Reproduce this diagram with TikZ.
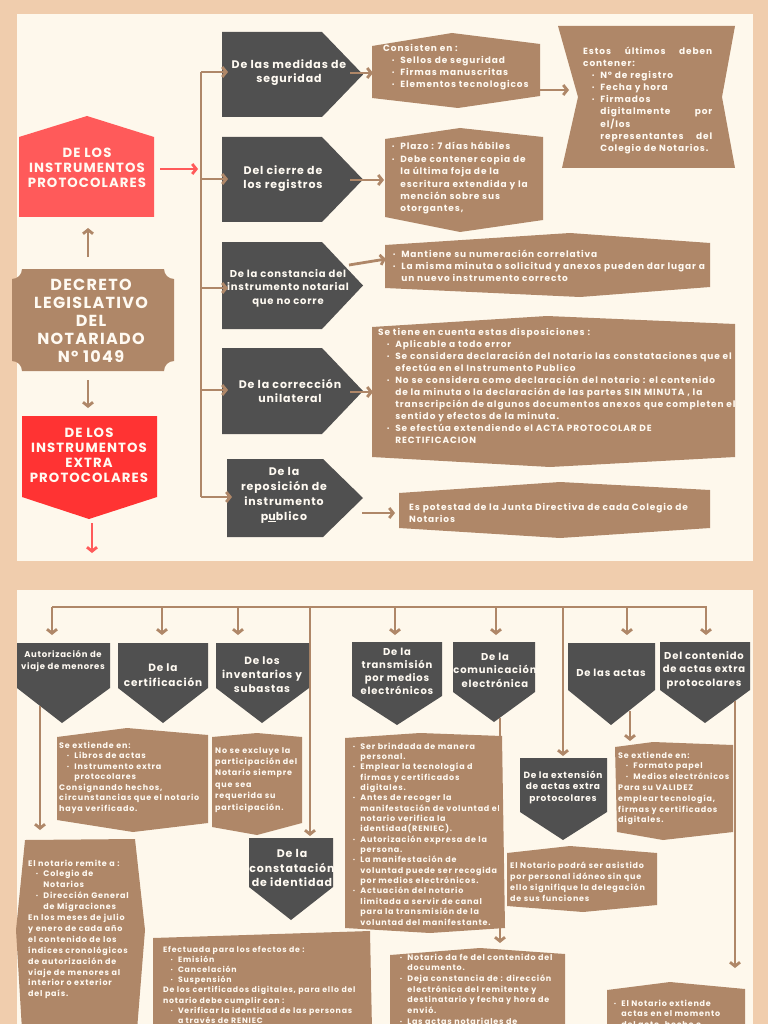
\documentclass[tikz,border=0pt]{standalone}
\usepackage{fontspec}
\setmainfont{Poppins}
\newfontfamily\wide{Poppins}[LetterSpace=8]
\newfontfamily\notefont{Poppins}[LetterSpace=10]
\usetikzlibrary{arrows.meta}
\definecolor{peach}{RGB}{240,205,173}
\definecolor{panel}{RGB}{254,248,236}
\definecolor{tan}{RGB}{175,135,104}
\definecolor{slate}{RGB}{80,80,80}
\definecolor{coral}{RGB}{255,90,90}
\definecolor{scarlet}{RGB}{255,51,51}
\definecolor{paper}{RGB}{255,250,242}
\newcommand{\bl}{\hspace*{0.95em}\makebox[0.95em][l]{·}}
\newcommand{\bc}{\hspace*{1.9em}}
\newcommand{\lines}[1]{\begin{tabular}[t]{@{}l@{}}#1\end{tabular}}
\newcommand{\rightsign}[5]{\fill[slate] (#1,#3) -- (#2,#3) -- (#5,{(#3+#4)/2}) -- (#2,#4) -- (#1,#4) -- cycle;}
\newcommand{\downsign}[6]{\fill[slate] (#1,#3) -- (#2,#3) -- (#2,#4) -- (#5,#6) -- (#1,#4) -- cycle;}

\begin{document}
\begin{tikzpicture}[x=1pt,y=-1pt,
  ln/.style={draw=tan,line width=2.8pt},
  arr/.style={ln,-{Straight Barb[length=4pt,width=10pt]}},
  redarr/.style={draw=coral,line width=2.8pt,-{Straight Barb[length=4pt,width=10pt]}},
  note/.style={inner sep=0pt,anchor=base west,text=paper,font=\notefont\fontsize{9}{12}\selectfont\bfseries},
  small/.style={note,font=\notefont\fontsize{8}{10.6}\selectfont\bfseries},
  head/.style={inner sep=0pt,align=center,text=paper,font=\wide\fontsize{11}{14}\selectfont\bfseries},
  title/.style={inner sep=0pt,align=center,text=paper,font=\wide\fontsize{13.3}{15}\selectfont\bfseries}]
\useasboundingbox (0,0) rectangle (768,1024);
\clip (0,0) rectangle (768,1024);
\fill[peach] (0,0) rectangle (768,1024);
\fill[panel] (17,14) rectangle (753,561);
\fill[panel] (17,590) rectangle (753,1030);

% ---- upper panel
\fill[coral] (19,137) -- (87,116) -- (154,137) -- (154,217) -- (19,217) -- cycle;
\node[title] (prot) at (87,168) {DE LOS\\INSTRUMENTOS\\PROTOCOLARES};

\fill[tan] (22,269) -- (164,269) arc[start angle=180,end angle=90,radius=10]
  -- (174,361) arc[start angle=270,end angle=180,radius=10]
  -- (22,371) arc[start angle=0,end angle=-90,radius=10]
  -- (12,279) arc[start angle=90,end angle=0,radius=10] -- cycle;
\node[title,font=\wide\fontsize{16}{18}\selectfont\bfseries] (decreto) at (91,321) {DECRETO\\LEGISLATIVO\\DEL\\NOTARIADO\\Nº 1049};

\fill[scarlet] (22,416) -- (157,416) -- (157,497) -- (89,519) -- (22,497) -- cycle;
\node[title] (extra) at (89,455) {DE LOS\\INSTRUMENTOS\\EXTRA\\PROTOCOLARES};

\coordinate (dec-n) at (88,257);
\coordinate (prot-s) at (88,228);
\coordinate (dec-s) at (88,380);
\coordinate (extra-n) at (88,408);
\coordinate (extra-s) at (92,523);
\coordinate (extra-out) at (92,553);
\draw[arr] (dec-n) -- (prot-s);
\draw[arr] (dec-s) -- (extra-n);
\draw[redarr] (extra-s) -- (extra-out);

\rightsign{222}{322}{32}{117}{363}
\node[head] (medidas) at (289,73) {De las medidas de\\seguridad};
\rightsign{222}{322}{137}{222}{363}
\node[head] (cierre) at (283,179) {Del cierre de\\los registros};
\rightsign{222}{322}{242}{329}{363}
\node[head,font=\wide\fontsize{10}{13.5}\selectfont\bfseries] (constancia) at (288,288) {De la constancia del\\instrumento notarial\\que no corre};
\rightsign{222}{322}{348}{434}{363}
\node[head] (correccion) at (290,391) {De la corrección\\unilateral};
\rightsign{227}{323}{459}{537}{363}
\node[head,font=\wide\fontsize{11}{15}\selectfont\bfseries] (reposicion) at (284,495) {De la\\reposición de\\instrumento\\p\underline{u}blico};

% trunk
\coordinate (jA) at (201,72);
\coordinate (jB) at (201,179);
\coordinate (jC) at (201,288);
\coordinate (jD) at (201,390);
\coordinate (jE) at (201,497);
\coordinate (prot-e) at (160,169);
\coordinate (trunk-r) at (198,169);
\draw[redarr] (prot-e) -- (trunk-r);
\draw[ln] (jA) -- (jE);
\draw[arr] (jA) -- (228,72);
\draw[arr] (jB) -- (228,179);
\draw[arr] (jC) -- (228,288);
\draw[arr] (jD) -- (228,390);
\draw[arr] (jE) -- (232,497);

% brown boxes
\fill[tan] (372,46) -- (452,33) -- (540,44) -- (540,96) -- (458,108) -- (372,98) -- cycle;
\node[note] (consisten) at (383,52) {\lines{Consisten en :\\\bl Sellos de seguridad\\\bl Firmas manuscritas\\\bl Elementos tecnologicos}};

\fill[tan] (558,26) -- (735,26) -- (722,97) -- (735,168) -- (562,168) -- (578,97) -- cycle;
\node[note] (ultimos) at (583,55) {\lines{\hbox to 129pt{Estos\hfill últimos\hfill deben}\\contener:\\\bl Nº de registro\\\bl Fecha y hora\\\bl Firmados\\\bc\hbox to 112pt{digitalmente\hfill por}\\\bc el/los\\\bc\hbox to 112pt{representantes\hfill del}\\\bc Colegio de Notarios.}};

\fill[tan] (385,139) -- (460,128) -- (543,137) -- (543,220) -- (460,232) -- (385,217) -- cycle;
\node[note,font=\notefont\fontsize{9}{12.4}\selectfont\bfseries] (plazo) at (383,150) {\lines{\bl Plazo : 7 días hábiles\\\bl Debe contener copia de\\\bc la última foja de la\\\bc escritura extendida y la\\\bc mención sobre sus\\\bc otorgantes,}};

\fill[tan] (385,245) -- (570,233) -- (710,243) -- (710,287) -- (580,297) -- (385,288) -- cycle;
\node[note,font=\notefont\fontsize{9}{11.5}\selectfont\bfseries] (mantiene) at (384,258) {\lines{\bl Mantiene su numeración correlativa\\\bl La misma minuta o solicitud y anexos pueden dar lugar a\\\bc un nuevo instrumento correcto}};

\fill[tan] (372,327) -- (547,316) -- (735,324) -- (735,457) -- (550,467) -- (372,457) -- cycle;
\node[note] (disposiciones) at (378,335) {\lines{Se tiene en cuenta estas disposiciones :\\\bl Aplicable a todo error\\\bl Se considera declaración del notario las constataciones que el\\\bc efectúa en el Instrumento Publico\\\bl No se considera como declaración del notario : el contenido\\\bc de la minuta o la declaración de las partes SIN MINUTA , la\\\bc transcripción de algunos documentos anexos que completen el\\\bc sentido y efectos de la minuta.\\\bl Se efectúa extendiendo el ACTA PROTOCOLAR DE\\\bc RECTIFICACION}};

\fill[tan] (399,493) -- (560,482) -- (710,490) -- (710,528) -- (560,538) -- (399,528) -- cycle;
\node[note] (potestad) at (409,510) {\lines{Es potestad de la Junta Directiva de cada Colegio de\\Notarios}};

\coordinate (medidas-t) at (350,73);
\coordinate (consisten-w) at (373,73);
\coordinate (consisten-e) at (540,90);
\coordinate (ultimos-w) at (569,90);
\coordinate (cierre-t) at (350,180);
\coordinate (plazo-w) at (384,180);
\coordinate (constancia-t) at (349,265);
\coordinate (mantiene-w) at (386,259);
\coordinate (correccion-t) at (350,392);
\coordinate (disposiciones-w) at (373,392);
\coordinate (reposicion-t) at (362,513);
\coordinate (potestad-w) at (395,513);
\draw[arr] (medidas-t) -- (consisten-w);
\draw[arr] (consisten-e) -- (ultimos-w);
\draw[arr] (cierre-t) -- (plazo-w);
\draw[arr] (constancia-t) -- (mantiene-w);
\draw[arr] (correccion-t) -- (disposiciones-w);
\draw[arr] (reposicion-t) -- (potestad-w);

% ---- lower panel
\coordinate (barL) at (52,607);
\coordinate (barR) at (707,607);
\draw[ln] (barL) -- (barR);
\foreach \x in {52,162,238,395,496,627,706}
  \draw[arr] (\x,607) -- (\x,635);
\draw[arr] (310,607) -- (310,836);
\draw[arr] (563,607) -- (563,756);

\downsign{17}{110}{643}{688}{62}{723}
\node[head,font=\wide\fontsize{8.5}{11.5}\selectfont\bfseries] (autor) at (63,661) {Autorización de\\viaje de menores};
\downsign{118}{208}{643}{688}{163}{723}
\node[head,font=\wide\fontsize{10.5}{14.5}\selectfont\bfseries] (certif) at (163,675) {De la\\certificación};
\downsign{216}{309}{643}{688}{262}{723}
\node[head,font=\wide\fontsize{10.5}{14}\selectfont\bfseries] (inventarios) at (262,675) {De los\\inventarios y\\subastas};
\downsign{352}{442}{642}{696}{397}{725}
\node[head,font=\wide\fontsize{10}{13}\selectfont\bfseries] (transmision) at (397,671) {De la\\transmisión\\por medios\\electrónicos};
\downsign{453}{535}{642}{692}{494}{722}
\node[head,font=\wide\fontsize{10}{13.5}\selectfont\bfseries] (comunicacion) at (495,670) {De la\\comunicación\\electrónica};
\downsign{568}{655}{643}{690}{611}{725}
\node[head,font=\wide\fontsize{10}{13}\selectfont\bfseries] (actas) at (611,673) {De las actas};
\downsign{660}{750}{642}{690}{705}{723}
\node[head,font=\wide\fontsize{10}{13.5}\selectfont\bfseries] (contenido) at (704,670) {Del contenido\\de actas extra\\protocolares};
\downsign{520}{607}{758}{812}{563}{840}
\node[head,font=\wide\fontsize{9}{11.5}\selectfont\bfseries] (extension) at (563,787) {De la extensión\\de actas extra\\protocolares};
\downsign{249}{333}{838}{887}{291}{920}
\node[head,font=\wide\fontsize{11}{14.5}\selectfont\bfseries] (constatacion) at (292,868) {De la\\constatación\\de identidad};

\fill[tan] (57,737) -- (127,728) -- (208,735) -- (208,823) -- (133,832) -- (57,820) -- cycle;
\node[small,font=\notefont\fontsize{8}{10.5}\selectfont\bfseries] (sextiende) at (59,748) {\lines{Se extiende en:\\\bl Libros de actas\\\bl Instrumento extra\\\bc protocolares\\Consignando hechos,\\circunstancias que el notario\\haya verificado.}};

\fill[tan] (212,737) -- (257,733) -- (302,737) -- (302,823) -- (257,835) -- (212,827) -- cycle;
\node[small,font=\notefont\fontsize{8}{11.4}\selectfont\bfseries] (excluye) at (215,753) {\lines{No se excluye la\\participación del\\Notario siempre\\que sea\\requerida su\\participación.}};

\fill[tan] (345,738) -- (420,733) -- (502,736) -- (505,928) -- (430,933) -- (345,928) -- cycle;
\node[small,font=\notefont\fontsize{8}{10.35}\selectfont\bfseries] (brindada) at (345,749) {\lines{\bl Ser brindada de manera\\\bc personal.\\\bl Emplear la tecnología d\\\bc firmas y certificados\\\bc digitales.\\\bl Antes de recoger la\\\bc manifestación de voluntad el\\\bc notario verifica la\\\bc identidad(RENIEC).\\\bl Autorización expresa de la\\\bc persona.\\\bl La manifestación de\\\bc voluntad puede ser recogida\\\bc por medios electrónicos.\\\bl Actuación del notario\\\bc limitada a servir de canal\\\bc para la transmisión de la\\\bc voluntad del manifestante.}};

\fill[tan] (390,955) -- (480,948) -- (565,954) -- (565,1030) -- (390,1030) -- cycle;
\node[small,font=\notefont\fontsize{8}{10.7}\selectfont\bfseries] (dafe) at (392,960) {\lines{\bl Notario da fe del contenido del\\\bc documento.\\\bl Deja constancia de : dirección\\\bc electrónica del remitente y\\\bc destinatario y fecha y hora de\\\bc envió.\\\bl Las actas notariales de}};

\fill[tan] (507,853) -- (570,846) -- (657,853) -- (657,905) -- (583,912) -- (507,906) -- cycle;
\node[small,font=\notefont\fontsize{8}{11}\selectfont\bfseries] (asistido) at (510,868) {\lines{El Notario podrá ser asistido\\por personal idóneo sin que\\ello signifique la delegación\\de sus funciones}};

\fill[tan] (615,747) -- (653,742) -- (733,745) -- (733,832) -- (663,840) -- (617,832) -- cycle;
\node[small,font=\notefont\fontsize{8}{10.8}\selectfont\bfseries] (formato) at (618,758) {\lines{Se extiende en:\\\bl Formato papel\\\bl Medios electrónicos\\Para su VALIDEZ\\emplear tecnología,\\firmas y certificados\\digitales.}};

\fill[tan] (607,990) -- (670,982) -- (745,989) -- (745,1030) -- (607,1030) -- cycle;
\node[small] (extiende) at (606,1006) {\lines{\bl El Notario extiende\\\bc actas en el momento\\\bc del acto, hecho o}};

\fill[tan] (25,840) -- (135,839) -- (145,930) -- (137,1030) -- (22,1030) -- (16,930) -- cycle;
\node[small,font=\notefont\fontsize{8}{10.9}\selectfont\bfseries] (remite) at (28,866) {\lines{El notario remite a :\\\bl Colegio de\\\bc Notarios\\\bl Dirección General\\\bc de Migraciones\\En los meses de julio\\y enero de cada año\\el contenido de los\\índices cronológicos\\de autorización de\\viaje de menores al\\interior o exterior\\del país.}};

\fill[tan] (153,938) -- (370,931) -- (372,1030) -- (153,1030) -- cycle;
\node[small,font=\notefont\fontsize{7.8}{10.2}\selectfont\bfseries] (efectuada) at (163,952) {\lines{Efectuada para los efectos de :\\\bl Emisión\\\bl Cancelación\\\bl Suspensión\\De los certificados digitales, para ello del\\notario debe cumplir con :\\\bl Verificar la identidad de las personas\\\bc a través de RENIEC}};

\coordinate (autor-s) at (40,706);
\coordinate (remite-n) at (40,830);
\coordinate (comunicacion-s) at (500,718);
\coordinate (dafe-n) at (500,943);
\coordinate (actas-s) at (630,711);
\coordinate (formato-n) at (630,741);
\coordinate (contenido-s) at (735,701);
\coordinate (extiende-n) at (735,968);
\draw[arr] (autor-s) -- (remite-n);
\draw[arr] (comunicacion-s) -- (dafe-n);
\draw[arr] (actas-s) -- (formato-n);
\draw[arr] (contenido-s) -- (extiende-n);
\end{tikzpicture}
\end{document}
